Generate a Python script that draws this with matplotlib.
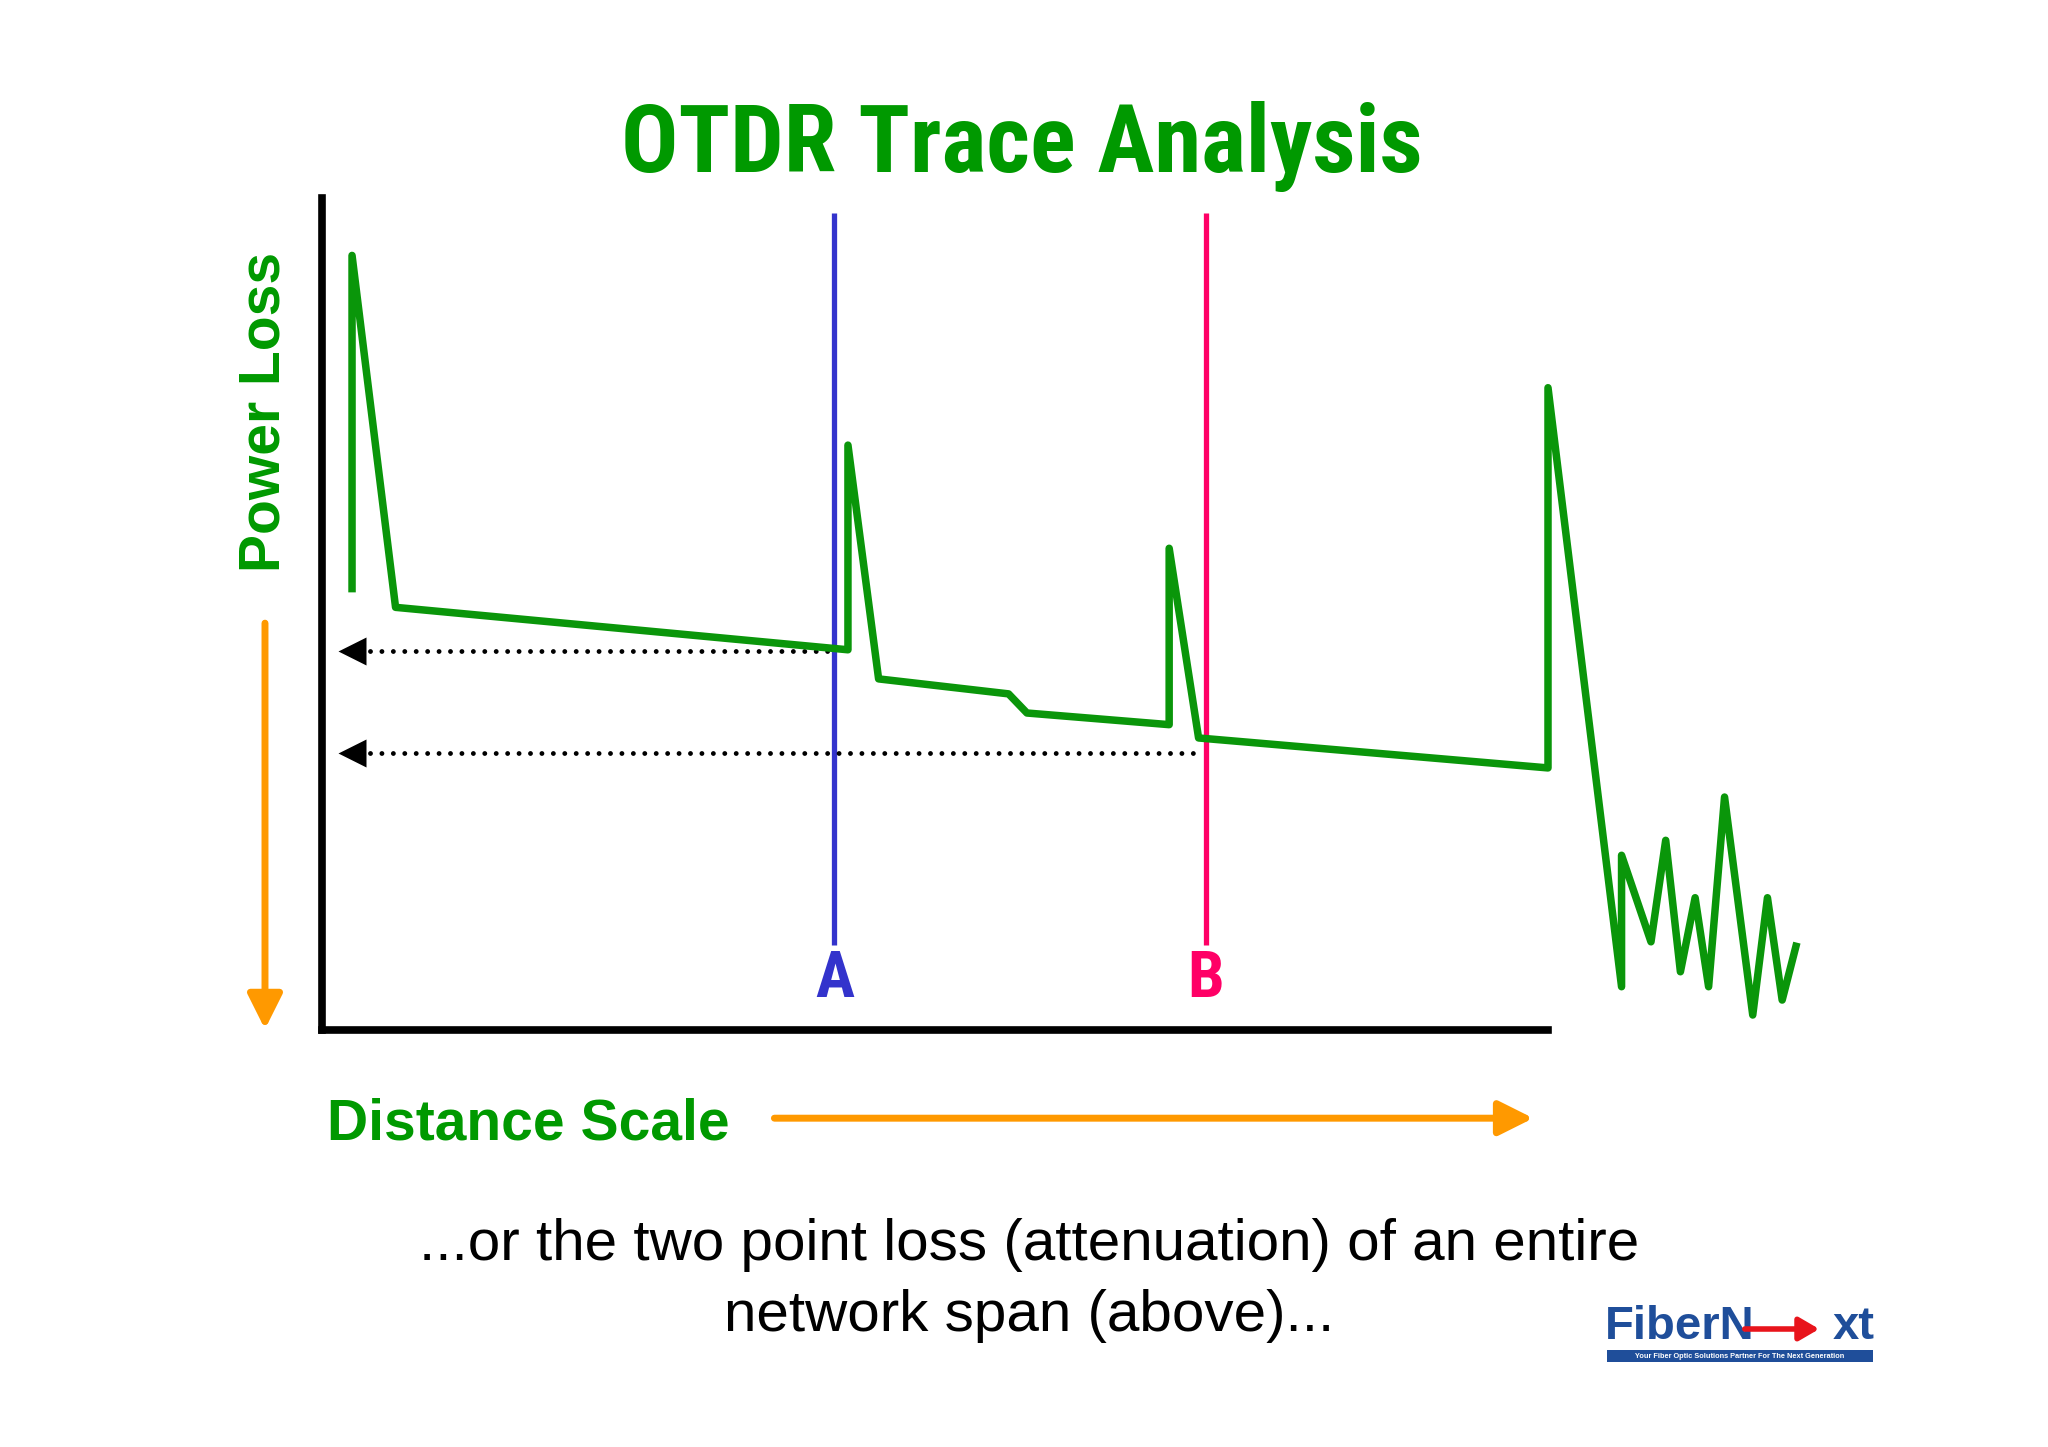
import matplotlib
matplotlib.use("Agg")
import matplotlib.pyplot as plt
from matplotlib.patches import Rectangle, FancyArrowPatch

W, H = 2048, 1447

# OTDR trace: distance along the span (% of the drawn axis) and level (% of axis height)
dist = [2.45, 2.45, 6.0, 42.9, 42.9, 45.4, 56.0, 57.5, 69.1, 69.1, 71.5, 100.0, 100.0,
        106.0, 106.0, 108.4, 109.6, 110.8, 112.0, 113.1, 114.4, 116.7, 117.9, 119.1, 120.3]
level = [52.6, 93.1, 50.8, 45.7, 70.3, 42.2, 40.4, 38.1, 36.7, 57.9, 35.1, 31.5, 77.2,
         5.2, 21.0, 10.6, 22.8, 7.0, 15.9, 5.2, 28.0, 1.8, 15.9, 3.6, 10.5]

# cursors A / B and the dotted read-outs to the loss axis
cursor_names = ["A", "B"]
cursor_pos = [41.8, 72.1]
cursor_colors = ["#3333CC", "#FF0066"]
readout_from = [41.8, 71.5]
readout_level = [45.6, 33.3]

title = "OTDR Trace Analysis"
ylabel = "Power Loss"
xlabel = "Distance Scale"
caption = ["...or the two point loss (attenuation) of an entire", "network span (above)..."]

GREEN = "#009900"
TRACE = "#0A960A"
ORANGE = "#FF9900"
LOGO_BLUE = "#1F4E9A"
SANS = ["Liberation Sans", "DejaVu Sans"]
NARROW = ["DejaVu Sans Condensed", "Liberation Sans Narrow", "Roboto Condensed",
          "Open Sans Condensed", "DejaVu Sans"]
plt.rcParams["font.family"] = SANS


def fx(x):
    return x / W


def fy(y):
    return 1 - y / H


fig = plt.figure(figsize=(W / 100, H / 100), dpi=100)
fig.patch.set_facecolor("white")

ax = fig.add_axes([fx(322), fy(1030), (1548 - 322) / W, (1030 - 198) / H])
ax.set_xlim(0, 100)
ax.set_ylim(0, 100)
ax.patch.set_alpha(0)
ax.set_xticks([])
ax.set_yticks([])
for s in ["top", "right"]:
    ax.spines[s].set_visible(False)
for s in ["left", "bottom"]:
    ax.spines[s].set_linewidth(5.5)
    ax.spines[s].set_color("black")

# cursors
ax.vlines(cursor_pos, 10.2, 98.2, colors=cursor_colors, lw=3.8, zorder=2)
for name, x, c in zip(cursor_names, cursor_pos, cursor_colors):
    ax.text(x, 4.0, name, ha="center", va="baseline", color=c, fontsize=47,
            family=NARROW, weight="bold", stretch="condensed")

# dotted read-outs with arrow heads
for x0, lv in zip(readout_from, readout_level):
    ax.plot([3.9, x0], [lv, lv], color="black", lw=3.5, dashes=(0.001, 2.35),
            dash_capstyle="round", clip_on=False, zorder=3)
    ax.plot([2.45], [lv], marker="<", ms=19.5, color="black", mec="none",
            clip_on=False, zorder=3)

# trace
ax.plot(dist, level, color=TRACE, lw=5.4, solid_joinstyle="round",
        solid_capstyle="butt", clip_on=False, zorder=4)

# orange direction arrows
arrow_kw = dict(arrowstyle="-|>,head_length=2.1,head_width=1.05", color=ORANGE,
                lw=5, mutation_scale=10, shrinkA=0, shrinkB=0)
ax.annotate("", xy=(-4.65, 0.1), xytext=(-4.65, 48.9), arrowprops=arrow_kw,
            annotation_clip=False)
ax.annotate("", xy=(98.8, -10.6), xytext=(36.9, -10.6), arrowprops=arrow_kw,
            annotation_clip=False)

# texts
fig.text(fx(1022), fy(172), title, ha="center", va="baseline", color=GREEN,
         fontsize=68.5, family=NARROW, weight="bold", stretch="condensed")
fig.text(fx(265), fy(412), ylabel, rotation=90, ha="center", va="center",
         color=GREEN, fontsize=41, weight="bold")
fig.text(fx(327), fy(1140), xlabel, ha="left", va="baseline", color=GREEN,
         fontsize=41, weight="bold")
fig.text(fx(1029), fy(1260), caption[0], ha="center", va="baseline",
         color="black", fontsize=42)
fig.text(fx(1029), fy(1331), caption[1], ha="center", va="baseline",
         color="black", fontsize=42)

# logo
fig.text(fx(1605), fy(1349), "FiberN", ha="left", va="bottom", color=LOGO_BLUE,
         fontsize=34, weight="bold")
fig.text(fx(1875), fy(1349), "xt", ha="right", va="bottom", color=LOGO_BLUE,
         fontsize=34, weight="bold")
fig.add_artist(FancyArrowPatch((fx(1742), fy(1329)), (fx(1822), fy(1329)),
                               transform=fig.transFigure,
                               arrowstyle="-|>,head_length=1.2,head_width=0.7",
                               mutation_scale=10, lw=4, color="#E8141B", zorder=6))
fig.add_artist(Rectangle((fx(1607), fy(1362)), (1873 - 1607) / W, 12 / H,
                         transform=fig.transFigure, color=LOGO_BLUE, lw=0))
fig.text(fx(1740), fy(1356), "Your Fiber Optic Solutions Partner For The Next Generation",
         ha="center", va="center", color="white", fontsize=5.3, weight="bold")

fig.savefig("out.png", dpi=100)
